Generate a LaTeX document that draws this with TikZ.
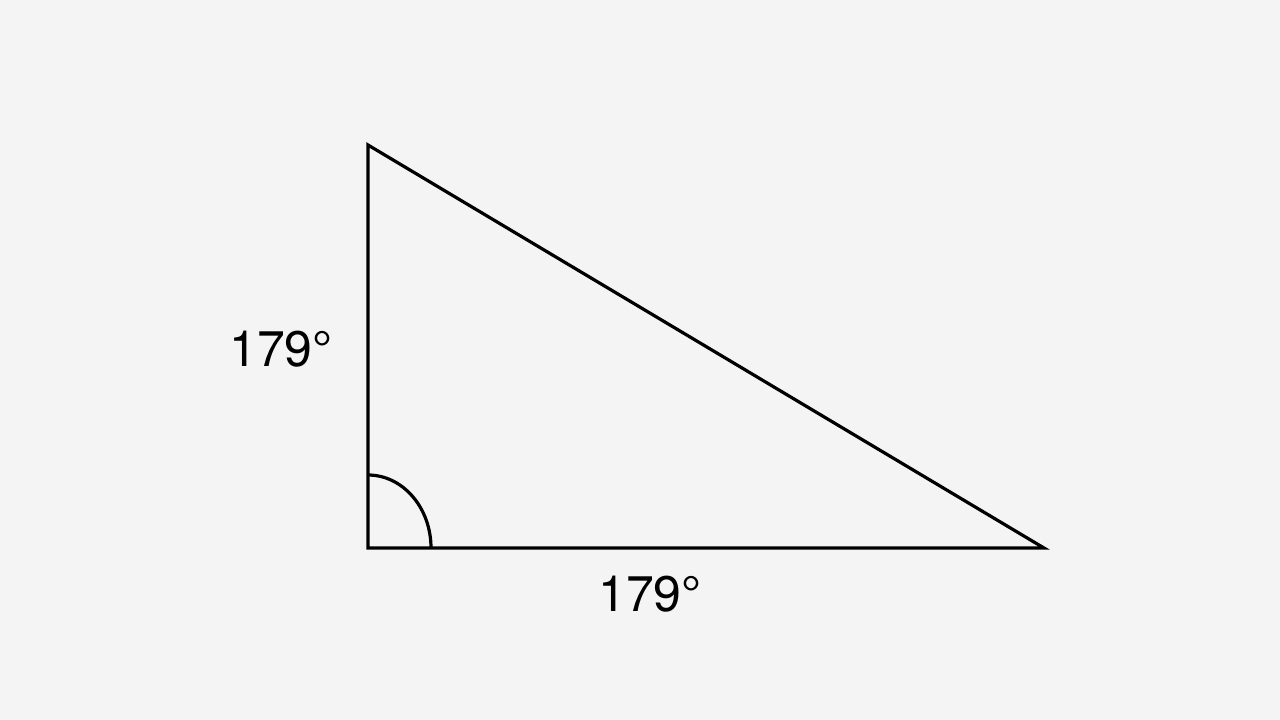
\documentclass[tikz,border=0pt]{standalone}
\usepackage{fontspec}
\setmainfont{TeX Gyre Heros}
\definecolor{bg}{HTML}{F4F4F4}
\begin{document}
\begin{tikzpicture}[x=1pt,y=-1pt,
  edge/.style={line width=3.2pt,line join=miter,miter limit=4,black},
  lbl/.style={font=\fontsize{50}{58}\selectfont,inner sep=0pt,anchor=center}]
\fill[bg] (0,0) rectangle (1280,720);
\useasboundingbox (0,0) rectangle (1280,720);
\coordinate (A) at (368,145);
\coordinate (B) at (368,548);
\coordinate (C) at (1044,548);
\draw[edge] (A) -- (B) -- (C) -- cycle;
\draw[edge] (431,548) arc[start angle=0,end angle=90,x radius=63,y radius=-73];
\node[lbl] (l1) at (281,349) {179°};
\node[lbl] (l2) at (650,594) {179°};
\end{tikzpicture}
\end{document}
